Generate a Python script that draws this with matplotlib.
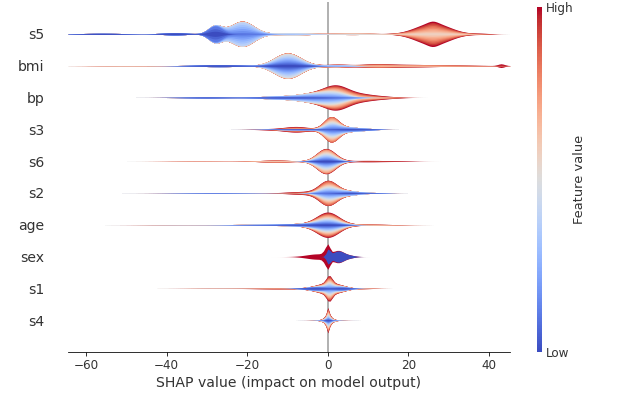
import numpy as np
import matplotlib
matplotlib.use('Agg')
import matplotlib.pyplot as plt

###############################
# Data

# features from bottom row to top row
features = ['s4', 's1', 'sex', 'age', 's2', 's6', 's3', 'bp', 'bmi', 's5']

# range of the shap values
shap_min = -64.5
shap_max = 45.2

# each feature is described by a few clusters of shap values:
# (shap centre, shap spread, share of samples, feature percentile low, feature percentile high)
s5_parts = [(-56, 5.0, 0.50, 0.00, 0.03),
            (-38, 3.0, 0.68, 0.00, 0.08),
            (-28, 1.7, 2.90, 0.00, 0.16),
            (-21.3, 2.9, 7.27, 0.12, 0.42),
            (-21, 3.2, 0.40, 0.50, 0.75),
            (-9, 4.0, 1.00, 0.30, 0.50),
            (6, 5.0, 0.75, 0.45, 0.60),
            (26, 4.2, 9.50, 0.55, 1.00),
            (26, 1.2, 0.45, 0.60, 1.00),
            (38, 2.0, 0.20, 0.80, 1.00)]
bmi_parts = [(-50, 6.0, 0.15, 0.45, 0.60),
             (-27, 5.0, 1.10, 0.00, 0.12),
             (-10, 3.3, 8.30, 0.00, 0.50),
             (-10, 3.6, 0.54, 0.50, 0.75),
             (2, 3.0, 0.60, 0.20, 0.45),
             (18, 11.0, 3.00, 0.60, 0.95),
             (12, 3.0, 0.45, 0.65, 0.85),
             (43, 0.8, 0.30, 0.92, 1.00)]
bp_parts = [(-30, 5.0, 0.40, 0.00, 0.10),
            (-12, 5.0, 1.50, 0.00, 0.30),
            (-3, 4.0, 3.50, 0.05, 0.50),
            (2, 3.0, 6.00, 0.15, 1.00),
            (8, 4.0, 3.00, 0.60, 1.00),
            (15, 2.5, 0.30, 0.85, 1.00)]
s3_parts = [(-15, 2.5, 0.25, 0.90, 1.00),
            (-8, 3.0, 1.50, 0.65, 1.00),
            (-7, 5.0, 0.50, 0.00, 0.15),
            (0.8, 1.8, 4.50, 0.10, 0.85),
            (5, 3.0, 1.35, 0.00, 0.30),
            (10, 2.0, 0.20, 0.00, 0.20)]
s6_parts = [(-32, 6.0, 0.12, 0.55, 0.70),
            (-13, 4.0, 0.80, 0.55, 0.85),
            (-0.5, 2.3, 5.75, 0.00, 0.75),
            (0, 2.6, 0.65, 0.75, 1.00),
            (10, 5.0, 0.80, 0.85, 1.00),
            (19, 2.5, 0.08, 0.90, 1.00)]
s2_parts = [(-28, 7.0, 0.30, 0.00, 0.20),
            (-6, 4.0, 1.20, 0.75, 1.00),
            (0, 2.2, 5.50, 0.10, 0.90),
            (5, 2.5, 1.10, 0.00, 0.35),
            (11, 2.5, 0.20, 0.00, 0.25)]
age_parts = [(-35, 7.0, 0.15, 0.20, 0.60),
             (-15, 6.0, 0.70, 0.00, 0.40),
             (-6, 4.0, 0.80, 0.00, 0.20),
             (0, 2.8, 7.00, 0.00, 1.00),
             (9, 5.0, 0.60, 0.50, 0.90)]
sex_parts = [(-0.5, 0.6, 0.53, 0.50, 1.00),
             (-2.5, 2.8, 1.40, 0.50, 1.00),
             (0.1, 0.45, 0.56, 0.00, 0.50),
             (2.6, 1.4, 1.47, 0.00, 0.50),
             (5.5, 1.2, 0.24, 0.00, 0.50)]
s1_parts = [(-26, 6.0, 0.10, 0.30, 0.70),
            (-12, 5.0, 0.50, 0.60, 1.00),
            (0.3, 0.7, 1.05, 0.20, 1.00),
            (0.3, 2.3, 2.40, 0.10, 1.00),
            (-3, 2.5, 0.75, 0.00, 0.15),
            (3.5, 1.8, 0.54, 0.00, 0.20),
            (8, 2.5, 0.15, 0.50, 0.90)]
s4_parts = [(0, 0.3, 0.45, 0.25, 1.00),
            (0, 1.0, 0.75, 0.10, 1.00),
            (0, 0.45, 0.17, 0.00, 0.20),
            (0, 2.0, 0.20, 0.00, 1.00)]

parts = [s4_parts, s1_parts, sex_parts, age_parts, s2_parts,
         s6_parts, s3_parts, bp_parts, bmi_parts, s5_parts]

# sex only has two values, so only two layers
layer_counts = [20, 20, 2, 20, 20, 20, 20, 20, 20, 20]

###############################

x_points = np.linspace(shap_min, shap_max, 200)


def layerDensities(comps, nbins):
    # density of shap values for every feature-value bin, stacked up
    edges = np.linspace(0, 1, nbins + 1)
    ys = np.zeros((nbins, len(x_points)))
    for mu, sd, w, lo, hi in comps:
        g = np.exp(-0.5 * ((x_points - mu) / sd) ** 2) / (sd * np.sqrt(2 * np.pi))
        for i in range(nbins):
            share = max(0.0, min(hi, edges[i + 1]) - max(lo, edges[i])) / (hi - lo)
            ys[i] += w * share * g
    return np.cumsum(ys, axis=0)


fig = plt.figure(figsize=(620 / 72, 395 / 72), dpi=72)
ax = fig.add_axes([68 / 620, 43 / 395, 442 / 620, 350 / 395])
cmap = plt.get_cmap('coolwarm')

ax.axvline(x=0, color='#999999', zorder=-1)

for pos, (comps, nbins) in enumerate(zip(parts, layer_counts)):
    ys = layerDensities(comps, nbins)
    width = 0.8
    scale = ys.max() * 2 / width
    # draw outer layer first, then cover it with the inner ones
    for i in range(nbins - 1, -1, -1):
        y = ys[i] / scale
        c = cmap(i / (nbins - 1))
        ax.fill_between(x_points, pos - y, pos + y, facecolor=c, edgecolor=c, linewidth=0)

ax.set_xlim(shap_min, shap_max)
ax.set_ylim(-1, len(features))
ax.set_yticks(range(len(features)))
ax.set_yticklabels(features, fontsize=14, color='#333333')
ax.tick_params('y', length=20, width=0.5, which='major')
ax.yaxis.set_ticks_position('none')
ax.xaxis.set_ticks_position('bottom')
ax.tick_params('x', labelsize=12, labelcolor='#333333')
ax.set_xlabel('SHAP value (impact on model output)', fontsize=14, color='#333333')
for side in ['right', 'top', 'left']:
    ax.spines[side].set_visible(False)

# colour bar
cax = fig.add_axes([537 / 620, 43 / 395, 5 / 620, 345 / 395])
m = plt.cm.ScalarMappable(cmap=cmap)
m.set_array([0, 1])
cb = fig.colorbar(m, cax=cax, ticks=[0, 1])
cb.set_ticklabels(['Low', 'High'])
cb.set_label('Feature value', size=13, labelpad=0, color='#333333')
cb.ax.tick_params(labelsize=12, length=0, labelcolor='#333333')
cb.outline.set_visible(False)

fig.savefig('out.png', dpi=72)
